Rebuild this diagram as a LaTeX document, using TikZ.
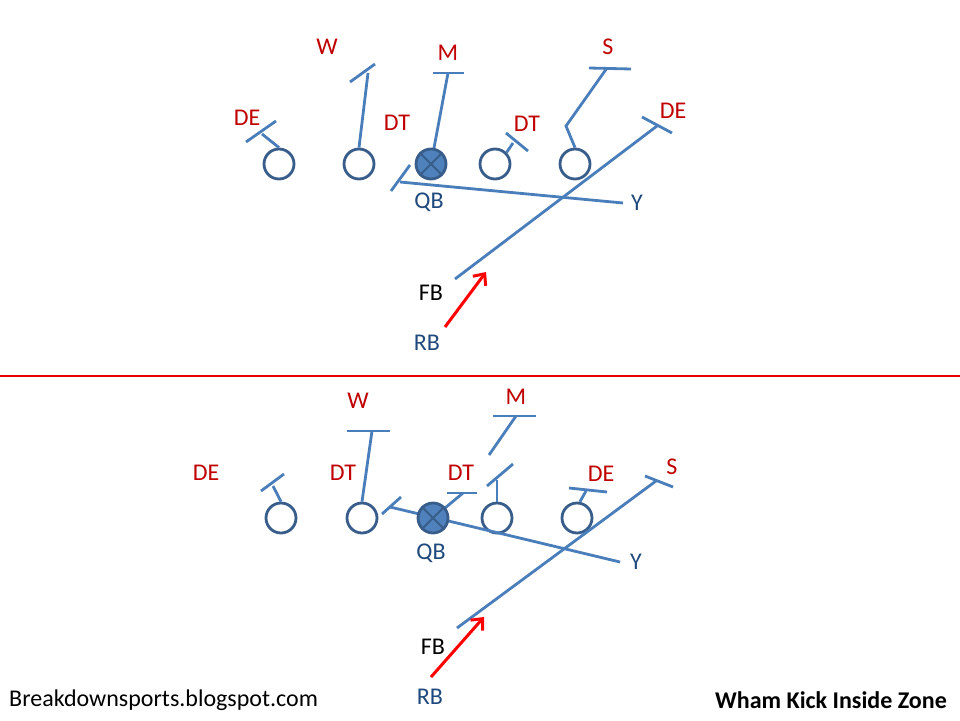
\documentclass[tikz,border=0pt]{standalone}
\usepackage{fontspec}
\setmainfont{Carlito}
\usetikzlibrary{arrows.meta}
\definecolor{lineblue}{HTML}{4A7EBB}
\definecolor{circblue}{HTML}{385D8A}
\definecolor{qbfill}{HTML}{4F81BD}
\definecolor{labelred}{HTML}{C00000}
\definecolor{textblue}{HTML}{1F497D}
\definecolor{runred}{HTML}{FF0000}
\begin{document}
\begin{tikzpicture}[x=1pt,y=-1pt,
  pl/.style={circle,draw=circblue,line width=2.8pt,fill=white,minimum size=30pt,inner sep=0pt},
  qbs/.style={pl,fill=qbfill},
  blk/.style={draw=lineblue,line width=2.8pt},
  lr/.style={text=labelred,font=\fontsize{24}{28}\selectfont,inner sep=0pt},
  lb/.style={text=textblue,font=\fontsize{24}{28}\selectfont,inner sep=0pt},
  lk/.style={text=black,font=\fontsize{24}{28}\selectfont,inner sep=0pt},
  runarrow/.style={draw=runred,line width=3pt,-{Straight Barb[length=9pt,width=16pt,line width=3pt]}}]
\useasboundingbox (0,0) rectangle (960,720);

% ---------------- TOP ----------------
\node[pl] (t1) at (279,164) {};
\node[pl] (t2) at (359,164) {};
\node[pl] (t4) at (495,164) {};
\node[pl] (t5) at (575,164) {};
\coordinate (tqbc) at (431,164);

\coordinate (a1) at (262,134);
\coordinate (a2) at (368,73);
\coordinate (a3) at (448,73);
\coordinate (a4) at (513,143);
\coordinate (a5b) at (566,126);
\coordinate (a5) at (607,68);
\coordinate (fb1) at (455,279);
\coordinate (a6) at (657,126);
\coordinate (k1) at (400,182);
\coordinate (yt) at (623,203);
\coordinate (rb1) at (445,327);
\coordinate (rb1e) at (486,272);

\draw[blk] (t1.north) -- (a1);
\draw[blk] (a1) ++(-16,8) -- ++(30,-21);
\draw[blk] (t2.north) -- (a2);
\draw[blk] (a2) ++(-18,9) -- ++(25,-18);
\draw[blk] (tqbc) -- (a3);
\draw[blk] (a3) ++(-15,0) -- ++(31,0);
\draw[blk] (t4.45) -- (a4);
\draw[blk] (a4) ++(-7,-10) -- ++(22,18);
\draw[blk] (t5.north) -- (a5b) -- (a5);
\draw[blk] (a5) ++(-18,0) -- ++(42,1);
\draw[blk] (fb1) -- (a6);
\draw[blk] (a6) ++(-15,-9) -- ++(30,16);
\draw[blk] (k1) -- (yt);
\draw[blk] (k1) ++(-9,9) -- ++(19,-26);
\node[qbs] (tqb) at (tqbc) {};
\draw[circblue,line width=2pt] (tqb.north west) -- (tqb.south east) (tqb.north east) -- (tqb.south west);
\draw[runarrow] (rb1) -- (rb1e);

\node[lr] (tW) at (327,47) {W};
\node[lr] (tM) at (448,53) {M};
\node[lr] (tS) at (608,47) {S};
\node[lr] (tDE1) at (247,118) {DE};
\node[lr] (tDT1) at (397,123) {DT};
\node[lr] (tDT2) at (527,124) {DT};
\node[lr] (tDE2) at (673,111) {DE};
\node[lb] (tQB) at (429,202) {QB};
\node[lb] (tY) at (637,203) {Y};
\node[lk] (tFB) at (431,293) {FB};
\node[lb] (tRB) at (427,343) {RB};

% ---------------- DIVIDER ----------------
\coordinate (dl) at (0,376);
\coordinate (dr) at (960,376);
\draw[runred!90!black,line width=2pt] (dl) -- (dr);

% ---------------- BOTTOM ----------------
\node[pl] (b1) at (281,518) {};
\node[pl] (b2) at (362,518) {};
\node[pl] (b4) at (497,518) {};
\node[pl] (b5) at (577,518) {};
\coordinate (bqbc) at (433,518);

\coordinate (c1) at (273,486);
\coordinate (c2) at (372,431);
\coordinate (k2) at (390,507);
\coordinate (yb) at (620,562);
\coordinate (qbr) at (445,508);
\coordinate (c4) at (463,493);
\coordinate (c5) at (497,480);
\coordinate (m2s) at (489,455);
\coordinate (c6) at (516,416);
\coordinate (c7) at (586,491);
\coordinate (fb2) at (457,628);
\coordinate (c8) at (656,481);
\coordinate (rb2) at (431,677);
\coordinate (rb2e) at (484,617);

\draw[blk] (b1.north) -- (c1);
\draw[blk] (c1) ++(-12,5) -- ++(23,-17);
\draw[blk] (b2.north) -- (c2);
\draw[blk] (c2) ++(-25,0) -- ++(43,0);
\draw[blk] (k2) -- (yb);
\draw[blk] (k2) ++(-8,7) -- ++(19,-17);
\draw[blk] (qbr) -- (c4);
\draw[blk] (c4) ++(-16,0) -- ++(30,0);
\draw[blk] (b4.north) -- (c5);
\draw[blk] (c5) ++(-10,6) -- ++(26,-22);
\draw[blk] (m2s) -- (c6);
\draw[blk] (c6) ++(-23,0) -- ++(43,0);
\draw[blk] (b5.80) -- (c7);
\draw[blk] (c7) ++(-17,-3) -- ++(38,4);
\draw[blk] (fb2) -- (c8);
\draw[blk] (c8) ++(-11,-5) -- ++(28,11);
\node[qbs] (bqb) at (bqbc) {};
\draw[circblue,line width=2pt] (bqb.north west) -- (bqb.south east) (bqb.north east) -- (bqb.south west);
\draw[runarrow] (rb2) -- (rb2e);

\node[lr] (bW) at (358,401) {W};
\node[lr] (bM) at (516,397) {M};
\node[lr] (bDE1) at (206,473) {DE};
\node[lr] (bDT1) at (343,473) {DT};
\node[lr] (bDT2) at (461,473) {DT};
\node[lr] (bDE2) at (601,474) {DE};
\node[lr] (bS) at (672,467) {S};
\node[lb] (bQB) at (431,553) {QB};
\node[lb] (bY) at (636,562) {Y};
\node[lk] (bFB) at (433,647) {FB};
\node[lb] (bRB) at (430,697) {RB};

% ---------------- FOOTER ----------------
\node[lk,anchor=west] (site) at (9,700) {Breakdownsports.blogspot.com};
\node[lk,anchor=east,font=\fontsize{24}{28}\selectfont\bfseries] (title) at (947,700) {Wham Kick Inside Zone};
\end{tikzpicture}
\end{document}
